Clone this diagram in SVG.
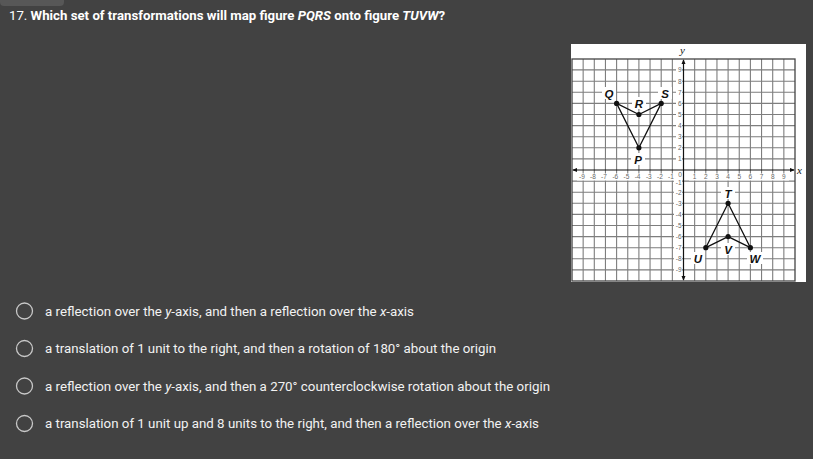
<svg xmlns="http://www.w3.org/2000/svg" width="813" height="459" viewBox="0 0 813 459">
<style>
.bg{fill:#424242}
.t{font-family:Roboto,"Liberation Sans",sans-serif;fill:#ffffff}
.opt{font-size:12.5px;fill:#f2f2f2}
.radio{fill:none;stroke:#c8c8c8;stroke-width:1.3}
.grid{stroke:#7e7e7e;stroke-width:1.1;fill:none}
.border{stroke:#444;stroke-width:1.3;fill:none}
.axis{stroke:#111;stroke-width:1.2;fill:none}
.tick{font-family:"Liberation Sans",Arial,sans-serif;font-size:6.5px;fill:#666}
.ptl{font-family:"Liberation Sans",Arial,sans-serif;font-size:11.5px;font-weight:bold;font-style:italic;fill:#111;text-anchor:middle}
.axl{font-family:"Liberation Serif","Times New Roman",serif;font-size:11px;font-style:italic;fill:#111}
.fig{stroke:#111;stroke-width:1.3;fill:none;stroke-linejoin:round}
.dot{fill:#111}
.kb{fill:#fff}
</style>
<defs>
<marker id="ah" viewBox="0 0 6 6" refX="5" refY="3" markerWidth="5" markerHeight="5" orient="auto-start-reverse" markerUnits="userSpaceOnUse">
<path d="M0,0.5 L6,3 L0,5.5 Z" fill="#111"/>
</marker>
</defs>
<rect class="bg" x="0" y="0" width="813" height="459"/>
<rect x="0" y="-6" width="64" height="12" rx="4" fill="#575757"/>
<g id="title">
<text class="t" x="9" y="20" font-size="12.5" textLength="436" lengthAdjust="spacingAndGlyphs">17. <tspan font-weight="bold">Which set of transformations will map figure <tspan font-style="italic">PQRS</tspan> onto figure <tspan font-style="italic">TUVW</tspan>?</tspan></text>
</g>
<g id="graph">
<rect x="571" y="44" width="235" height="238" fill="#ffffff"/>
<path class="grid" d="M583.15 59V281M594.3 59V281M605.45 59V281M616.6 59V281M627.75 59V281M638.9 59V281M650.05 59V281M661.2 59V281M672.35 59V281M694.65 59V281M705.8 59V281M716.95 59V281M728.1 59V281M739.25 59V281M750.4 59V281M761.55 59V281M772.7 59V281M783.85 59V281M572 69.9H795M572 81.2H795M572 92.3H795M572 103.4H795M572 114.5H795M572 125.6H795M572 136.7H795M572 147.8H795M572 158.9H795M572 181.1H795M572 192.2H795M572 203.3H795M572 214.4H795M572 225.5H795M572 236.6H795M572 247.7H795M572 258.8H795M572 269.9H795"/>
<rect class="border" x="572" y="59" width="223" height="222"/>
<g id="xticks">
<rect class="kb" x="577" y="173.5" width="102" height="7"/>
<rect class="kb" x="689" y="173.5" width="100" height="7"/>
<text class="tick" text-anchor="middle" y="179"><tspan x="582">-9</tspan><tspan x="593">-8</tspan><tspan x="604">-7</tspan><tspan x="615.3">-6</tspan><tspan x="626.5">-5</tspan><tspan x="637.6">-4</tspan><tspan x="648.8">-3</tspan><tspan x="660">-2</tspan><tspan x="671">-1</tspan><tspan x="694.6">1</tspan><tspan x="705.8">2</tspan><tspan x="717">3</tspan><tspan x="728.1">4</tspan><tspan x="739.2">5</tspan><tspan x="750.4">6</tspan><tspan x="761.5">7</tspan><tspan x="772.7">8</tspan><tspan x="783.8">9</tspan></text>
<text class="tick" text-anchor="middle" x="680" y="177.3">0</text>
</g>
<g id="yticks">
<rect class="kb" x="676" y="65" width="6" height="98"/>
<rect class="kb" x="674" y="178" width="8" height="97"/>
<text class="tick" text-anchor="end"><tspan x="681.5" y="72.4">9</tspan><tspan x="681.5" y="83.5">8</tspan><tspan x="681.5" y="94.6">7</tspan><tspan x="681.5" y="105.7">6</tspan><tspan x="681.5" y="116.8">5</tspan><tspan x="681.5" y="127.9">4</tspan><tspan x="681.5" y="139">3</tspan><tspan x="681.5" y="150.1">2</tspan><tspan x="681.5" y="161.2">1</tspan><tspan x="681.5" y="184.8">-1</tspan><tspan x="681.5" y="194.5">-2</tspan><tspan x="681.5" y="205.6">-3</tspan><tspan x="681.5" y="216.7">-4</tspan><tspan x="681.5" y="227.8">-5</tspan><tspan x="681.5" y="238.9">-6</tspan><tspan x="681.5" y="250">-7</tspan><tspan x="681.5" y="261.1">-8</tspan><tspan x="681.5" y="272.2">-9</tspan></text>
</g>
<g id="axes">
<line class="axis" x1="573" y1="170" x2="794" y2="170" marker-start="url(#ah)" marker-end="url(#ah)"/>
<line class="axis" x1="683.5" y1="60" x2="683.5" y2="280" marker-start="url(#ah)" marker-end="url(#ah)"/>
<text class="axl" x="680" y="54">y</text>
<text class="axl" x="797" y="174">x</text>
</g>
</g>
<g id="figure-PQRS">
<path class="fig" d="M616.6 103.4L638.9 114.5L661.2 103.4L638.9 147.8Z"/>
<circle class="dot" cx="616.6" cy="103.4" r="2.6"/>
<circle class="dot" cx="638.9" cy="114.5" r="2.6"/>
<circle class="dot" cx="661.2" cy="103.4" r="2.6"/>
<circle class="dot" cx="638.9" cy="147.8" r="2.6"/>
<rect class="kb" x="602" y="87" width="14" height="12"/>
<rect class="kb" x="632" y="97" width="14" height="12"/>
<rect class="kb" x="658" y="87" width="14" height="12"/>
<rect class="kb" x="631" y="153" width="14" height="12"/>
<text class="ptl" x="609" y="97.5">Q</text>
<text class="ptl" x="639" y="107.5">R</text>
<text class="ptl" x="665" y="97.5">S</text>
<text class="ptl" x="638" y="163.5">P</text>
</g>
<g id="figure-TUVW">
<path class="fig" d="M705.8 247.7L728.1 203.3L750.4 247.7L728.1 236.6Z"/>
<circle class="dot" cx="728.1" cy="203.3" r="2.6"/>
<circle class="dot" cx="705.8" cy="247.7" r="2.6"/>
<circle class="dot" cx="728.1" cy="236.6" r="2.6"/>
<circle class="dot" cx="750.4" cy="247.7" r="2.6"/>
<rect class="kb" x="721" y="187" width="14" height="12"/>
<rect class="kb" x="721" y="243" width="14" height="12"/>
<rect class="kb" x="691" y="252" width="14" height="12"/>
<rect class="kb" x="747" y="252" width="16" height="12"/>
<text class="ptl" x="728" y="197.5">T</text>
<text class="ptl" x="728" y="253.5">V</text>
<text class="ptl" x="698" y="262.5">U</text>
<text class="ptl" x="755" y="262.5">W</text>
</g>
<g id="option-1">
<circle class="radio" cx="24.5" cy="311" r="8"/>
<text class="t opt" x="45" y="315.5" textLength="369" lengthAdjust="spacingAndGlyphs">a reflection over the <tspan font-style="italic">y</tspan>-axis, and then a reflection over the <tspan font-style="italic">x</tspan>-axis</text>
</g>
<g id="option-2">
<circle class="radio" cx="24.5" cy="348.5" r="8"/>
<text class="t opt" x="45" y="353" textLength="451" lengthAdjust="spacingAndGlyphs">a translation of 1 unit to the right, and then a rotation of 180° about the origin</text>
</g>
<g id="option-3">
<circle class="radio" cx="24.5" cy="386" r="8"/>
<text class="t opt" x="45" y="390.5" textLength="505" lengthAdjust="spacingAndGlyphs">a reflection over the <tspan font-style="italic">y</tspan>-axis, and then a 270° counterclockwise rotation about the origin</text>
</g>
<g id="option-4">
<circle class="radio" cx="24.5" cy="423.5" r="8"/>
<text class="t opt" x="45" y="428" textLength="494" lengthAdjust="spacingAndGlyphs">a translation of 1 unit up and 8 units to the right, and then a reflection over the <tspan font-style="italic">x</tspan>-axis</text>
</g>
</svg>
